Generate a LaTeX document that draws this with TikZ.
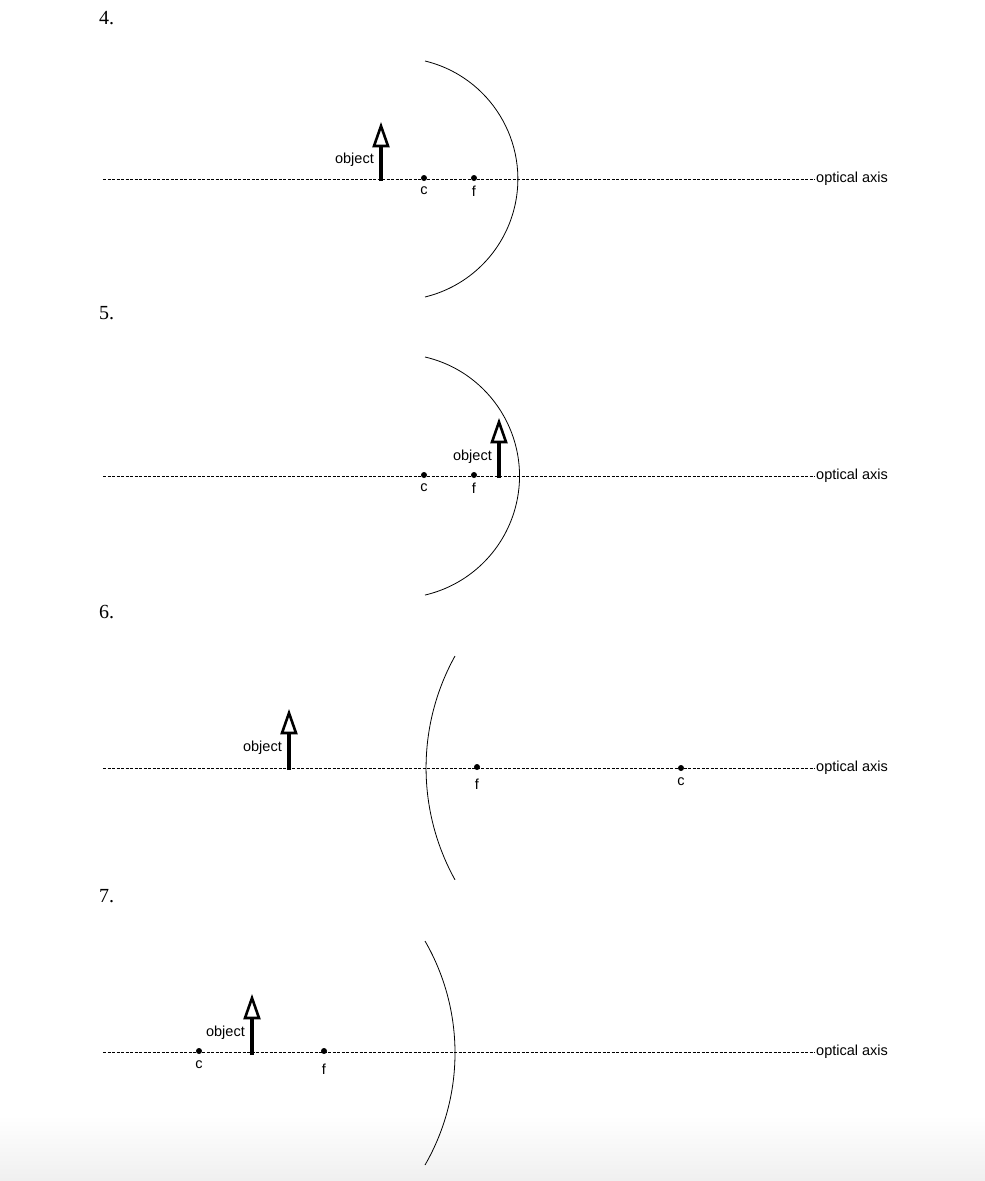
\documentclass[tikz,border=0pt]{standalone}
\usepackage{fontspec}
\setmainfont{Liberation Serif}
\newfontfamily\lab{Liberation Sans}
\begin{document}
\begin{tikzpicture}[x=1pt,y=-1pt,
  axis/.style={dash pattern=on 3pt off 1.5pt, line width=0.6pt},
  mirror/.style={line width=0.8pt},
  lbl/.style={font=\lab\fontsize{14.5}{16}\selectfont, inner sep=0pt},
  num/.style={font=\fontsize{20}{22}\selectfont, inner sep=0pt, anchor=west},
  pt/.style={circle, fill=black, inner sep=0pt, minimum size=6pt}]
\useasboundingbox (0,0) rectangle (985,1181);
\shade[top color=white, bottom color=black!6, draw=none] (0,1115) rectangle (985,1181);
\newcommand{\objarrow}[3]{%
  \draw[line width=4pt] (#1,#2) -- (#1,#3+20);
  \draw[line width=2.6pt, fill=white, line join=miter] (#1-7,#3+22) -- (#1,#3+2) -- (#1+7,#3+22) -- cycle;}
\newcommand{\axisline}[1]{%
  \draw[axis] (103,#1) -- (815,#1);
  \node[lbl, anchor=west] at (816,#1) {optical axis};}
% 4
\node[num] at (99,18) {4.};
\axisline{179}
\draw[mirror] (425,61) arc[start angle=-76.4, end angle=76.4, radius=121.4];
\objarrow{381}{181}{124}
\node[lbl, anchor=east] at (374,160) {object};
\node[pt] (c4) at (424,178) {}; \node[lbl] at (424,191) {c};
\node[pt] (f4) at (474,178) {}; \node[lbl] at (474,191) {f};
% 5
\node[num] at (99,313) {5.};
\axisline{476}
\draw[mirror] (425,357) arc[start angle=-76.9, end angle=76.9, radius=122.2];
\objarrow{499}{478}{420}
\node[lbl, anchor=east] at (492,457) {object};
\node[pt] (c5) at (424,475) {}; \node[lbl] at (424,488) {c};
\node[pt] (f5) at (474,475) {}; \node[lbl] at (474,488) {f};
% 6
\node[num] at (99,612) {6.};
\axisline{768}
\draw[mirror] (455,656) arc[start angle=-180+29.0, end angle=-180-29.0, radius=230.8];
\objarrow{289}{770}{711}
\node[lbl, anchor=east] at (282,748) {object};
\node[pt] (f6) at (477,767) {}; \node[lbl] at (477,784) {f};
\node[pt] (c6) at (681,768) {}; \node[lbl] at (681,782) {c};
% 7
\node[num] at (99,896) {7.};
\axisline{1052}
\draw[mirror] (425,941) arc[start angle=-30.0, end angle=30.0, radius=224];
\objarrow{252}{1055}{996}
\node[lbl, anchor=east] at (245,1033) {object};
\node[pt] (c7) at (199,1051) {}; \node[lbl] at (199,1065) {c};
\node[pt] (f7) at (324,1051) {}; \node[lbl] at (324,1069) {f};
\end{tikzpicture}
\end{document}
